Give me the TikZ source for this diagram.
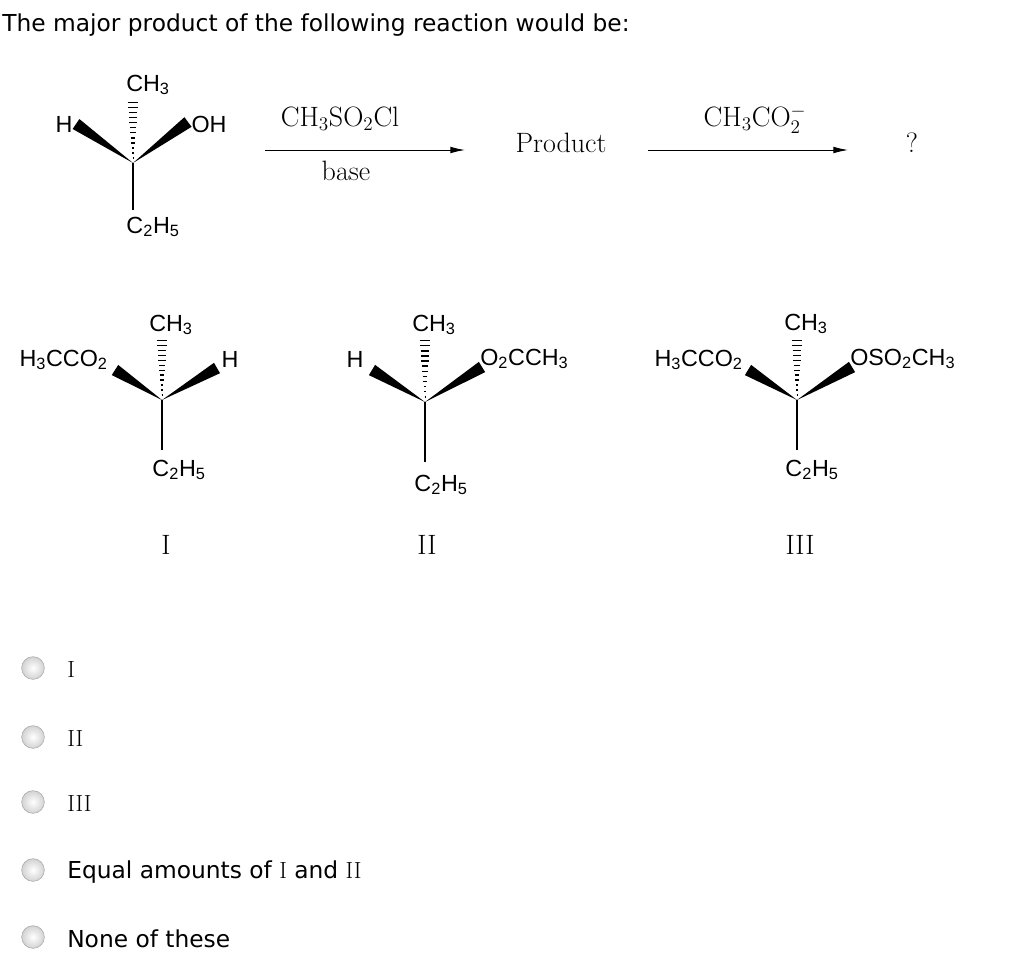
\documentclass[tikz,border=0pt]{standalone}
\usepackage{fontspec}
\usetikzlibrary{calc,arrows.meta}
\newfontfamily\ver{DejaVu Sans}
\newfontfamily\ari{Liberation Sans}
\newcommand{\sbs}[1]{\textsubscript{#1}}
\begin{document}
\begin{tikzpicture}[x=0.75pt,y=-0.75pt,
  lab/.style={font=\ari\fontsize{17.5}{20}\selectfont,inner sep=0pt},
  rea/.style={font=\fontsize{21}{24}\selectfont,inner sep=0pt},
  txt/.style={font=\ver\fontsize{17.5}{20}\selectfont,inner sep=0pt,anchor=west},
  radio/.style={circle,minimum size=17pt,inner sep=0pt,draw=gray!70,shade,inner color=white,outer color=gray!35},
  arr/.style={-{Latex[length=11pt,width=5pt]},line width=0.7pt}]
\useasboundingbox (0,0) rectangle (1024,956);
\newcommand{\mywedge}[2]{\fill #1 -- ($#2!4.5pt!90:#1$) -- ($#2!4.5pt!-90:#1$) -- cycle;}
\newcommand{\myhash}[2]{\foreach \t in {0.08,0.16,...,1.0}{\draw[line width=1.1pt] ($#1!\t!#2$) ++(-\t*5.5,0) -- ++(\t*11,0);}}
% structure 0
\coordinate (c0) at (133,163);
\myhash{(c0)}{(133,100)}
\mywedge{(c0)}{(76,124)}
\mywedge{(c0)}{(188,122)}
\draw[line width=1.1pt] (c0) -- (133,210);
\node[lab] (a1) at (148,85) {CH\sbs{3}};
\node[lab] (a2) at (64,124) {H};
\node[lab] (a3) at (209,124) {OH};
\node[lab] (a4) at (153,227) {C\sbs{2}H\sbs{5}};
% arrows
\coordinate (p1) at (265,150); \coordinate (p2) at (465,150);
\draw[arr] (p1) -- (p2);
\node[rea] (r1) at (340,119) {CH$_3$SO$_2$Cl};
\node[rea] (r2) at (346,171) {base};
\node[rea] (pr) at (561,143) {Product};
\coordinate (q1) at (648,150); \coordinate (q2) at (848,150);
\draw[arr] (q1) -- (q2);
\node[rea] (r3) at (755,119) {CH$_3$CO$_2^-$};
\node[rea] (qm) at (912,143) {?};
% I
\coordinate (c1) at (162,400);
\myhash{(c1)}{(162,338)}
\mywedge{(c1)}{(115,370)}
\mywedge{(c1)}{(217,368)}
\draw[line width=1.1pt] (c1) -- (162,450);
\node[lab] (b1) at (171,325) {CH\sbs{3}};
\node[lab,anchor=east] (b2) at (108,360) {H\sbs{3}CCO\sbs{2}};
\node[lab] (b3) at (230,359) {H};
\node[lab] (b4) at (179,470) {C\sbs{2}H\sbs{5}};
\node[rea] (n1) at (166,545) {I};
% II
\coordinate (c2) at (425,402);
\myhash{(c2)}{(425,338)}
\mywedge{(c2)}{(372,370)}
\mywedge{(c2)}{(482,367)}
\draw[line width=1.1pt] (c2) -- (425,462);
\node[lab] (d1) at (434,325) {CH\sbs{3}};
\node[lab] (d2) at (355,359) {H};
\node[lab,anchor=west] (d3) at (480,359) {O\sbs{2}CCH\sbs{3}};
\node[lab] (d4) at (441,485) {C\sbs{2}H\sbs{5}};
\node[rea] (n2) at (427,545) {II};
% III
\coordinate (c3) at (797,400);
\myhash{(c3)}{(797,338)}
\mywedge{(c3)}{(748,370)}
\mywedge{(c3)}{(852,367)}
\draw[line width=1.1pt] (c3) -- (797,450);
\node[lab] (e1) at (806,324) {CH\sbs{3}};
\node[lab,anchor=east] (e2) at (743,360) {H\sbs{3}CCO\sbs{2}};
\node[lab,anchor=west] (e3) at (850,359) {OSO\sbs{2}CH\sbs{3}};
\node[lab] (e4) at (812,470) {C\sbs{2}H\sbs{5}};
\node[rea] (n3) at (800,545) {III};
% text
\node[txt] (t0) at (2,25) {The major product of the following reaction would be:};
\foreach \y/\s [count=\i] in {668/{\rmfamily I},737/{\rmfamily II},802/{\rmfamily III},870/{Equal amounts of {\rmfamily I} and {\rmfamily II}},937/None of these}{
  \node[radio] (o\i) at (33,\y) {};
  \node[txt] (l\i) at (67,\y+2) {\s};
}
\end{tikzpicture}
\end{document}
